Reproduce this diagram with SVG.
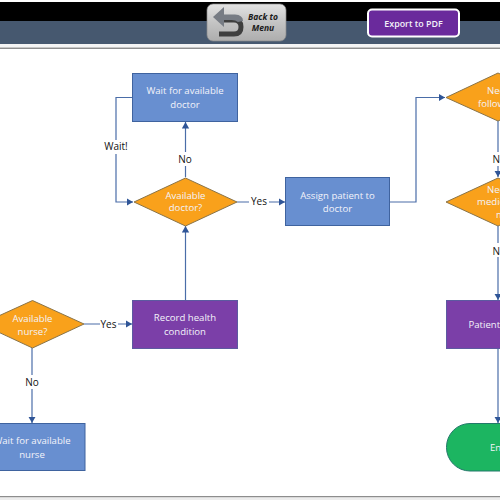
<svg xmlns="http://www.w3.org/2000/svg" width="500" height="500" viewBox="0 0 500 500">
<style>
text{font-family:"Open Sans","Noto Sans","Liberation Sans",sans-serif;font-size:9.6px}
.w{fill:#f3f3fa;text-anchor:middle}
.s{fill:#f3f3fa}
.k{fill:#111;text-anchor:middle;font-size:10px}
.sk{fill:#111;font-size:10px}
.blue{fill:#688fd0;stroke:#3f639f;stroke-width:1}
.purple{fill:#7b3fa8;stroke:#5c5aa0;stroke-width:1}
.orange{fill:#f9a11b;stroke:#8a7448;stroke-width:1}
.green{fill:#1cb561;stroke:#23796a;stroke-width:1}
.c{fill:none;stroke:#4a6da8;stroke-width:1.2}
.b{font-size:8.5px;font-weight:700;font-style:italic;text-anchor:middle;fill:#1a1a1a}
</style>
<defs>
<marker id="a" markerUnits="userSpaceOnUse" markerWidth="7" markerHeight="8" refX="6.500" refY="4" orient="auto"><path d="M0 0.300L6.500 4L0 7.700Z" fill="#2f5597"/></marker>
<linearGradient id="bg" x1="0" y1="0" x2="0" y2="1"><stop offset="0" stop-color="#e4e4e4"/><stop offset="0.500" stop-color="#c4c4c4"/><stop offset="1" stop-color="#adadad"/></linearGradient>
</defs>
<rect width="500" height="500" fill="#fff"/>
<g id="header">
<rect y="2" width="500" height="19" fill="#000"/>
<rect y="21" width="500" height="23" fill="#46586f"/>
<rect y="44" width="500" height="3" fill="#f4f4f4"/>
<rect y="47.500" width="500" height="1.500" fill="#8d8d8d"/>
</g>
<g id="back-to-menu">
<rect x="207" y="4" width="79" height="37" rx="6" fill="url(#bg)" stroke="#8a8a8a" stroke-width="0.700"/>
<path d="M224 20H234Q241 20 241 27Q241 34 234 34H219" fill="none" stroke="#3f3f3f" stroke-width="5"/>
<path d="M224 7V14.500H235Q243 15 243 21L238 22Q235 19.500 230 20H224V27L213 17Z" fill="#777c84"/>
<text x="263" y="19.500" class="b">Back to</text>
<text x="263" y="31" class="b">Menu</text>
</g>
<g id="export-pdf">
<rect x="368" y="9.500" width="91" height="27" rx="4" fill="#6a2a9c" stroke="#fff" stroke-width="2"/>
<text x="413.500" y="26.500" class="w" style="font-size:8.900px;font-weight:600">Export to PDF</text>
</g>
<g id="connectors">
<path class="c" d="M185.500 177V122" marker-end="url(#a)"/>
<path class="c" d="M133 97.500H116V202H133" marker-end="url(#a)"/>
<path class="c" d="M237 202H285" marker-end="url(#a)"/>
<path class="c" d="M389 202H416V97.500H445" marker-end="url(#a)"/>
<path class="c" d="M185.500 300V226" marker-end="url(#a)"/>
<path class="c" d="M84 324H132" marker-end="url(#a)"/>
<path class="c" d="M32 348V423" marker-end="url(#a)"/>
<path class="c" d="M498 121V177" marker-end="url(#a)"/>
<path class="c" d="M498 226V300" marker-end="url(#a)"/>
<path class="c" d="M498 348V423" marker-end="url(#a)"/>
</g>
<g id="connector-labels">
<rect x="177" y="152" width="17" height="14" fill="#fff"/><text x="185" y="162.500" class="k">No</text>
<rect x="103" y="140" width="26" height="14" fill="#fff"/><text x="116" y="150" class="k">Wait!</text>
<rect x="249" y="195" width="20" height="14" fill="#fff"/><text x="259" y="205" class="k">Yes</text>
<rect x="100" y="318" width="18" height="13" fill="#fff"/><text x="108.500" y="328" class="k">Yes</text>
<rect x="24" y="375" width="16" height="14" fill="#fff"/><text x="32" y="386" class="k">No</text>
<rect x="491" y="152" width="9" height="14" fill="#fff"/><text x="492.500" y="162.500" class="sk">No</text>
<rect x="491" y="243" width="9" height="14" fill="#fff"/><text x="492.500" y="254.500" class="sk">No</text>
</g>
<g id="wait-doctor"><rect class="blue" x="132.500" y="73.500" width="105" height="48"/>
<text x="185" y="94" class="w">Wait for available</text><text x="185" y="107.500" class="w">doctor</text></g>
<g id="available-doctor"><path class="orange" d="M185.500 178L237 202L185.500 226L134 202Z"/>
<text x="185.500" y="198.500" class="w">Available</text><text x="185.500" y="211" class="w">doctor?</text></g>
<g id="assign-patient"><rect class="blue" x="285.500" y="177.500" width="104" height="48"/>
<text x="337.500" y="199" class="w">Assign patient to</text><text x="337.500" y="212" class="w">doctor</text></g>
<g id="record-health"><rect class="purple" x="132.500" y="300.500" width="105" height="48"/>
<text x="185" y="321" class="w">Record health</text><text x="185" y="334.500" class="w">condition</text></g>
<g id="available-nurse"><path class="orange" d="M32.500 300.500L84 324L32.500 348L-19 324Z"/>
<text x="32.500" y="321.500" class="w">Available</text><text x="32.500" y="334.500" class="w">nurse?</text></g>
<g id="wait-nurse"><rect class="blue" x="-20" y="423.500" width="105" height="47"/>
<text x="32" y="444" class="w">Wait for available</text><text x="32" y="457.500" class="w">nurse</text></g>
<g id="need-followup"><path class="orange" d="M498 73L550 97.500L498 121L446 97.500Z"/>
<text x="487" y="94" class="s">Need</text><text x="478" y="107" class="s">follow</text></g>
<g id="need-medication"><path class="orange" d="M498 178L550 202L498 226L446 202Z"/>
<text x="487" y="192.500" class="s">Need</text><text x="477" y="205" class="s">medic</text><text x="496" y="218" class="s">m</text></g>
<g id="patient"><rect class="purple" x="446.500" y="300.500" width="105" height="48"/>
<text x="468.500" y="328" class="s">Patient</text></g>
<g id="end"><rect class="green" x="446.500" y="423.500" width="105" height="47.500" rx="23.500"/>
<text x="490" y="451" class="s">End</text></g>
<g id="footer"><rect y="496" width="500" height="1.500" fill="#8d8d8d"/><rect y="497.500" width="500" height="2.500" fill="#ececec"/></g>
</svg>
